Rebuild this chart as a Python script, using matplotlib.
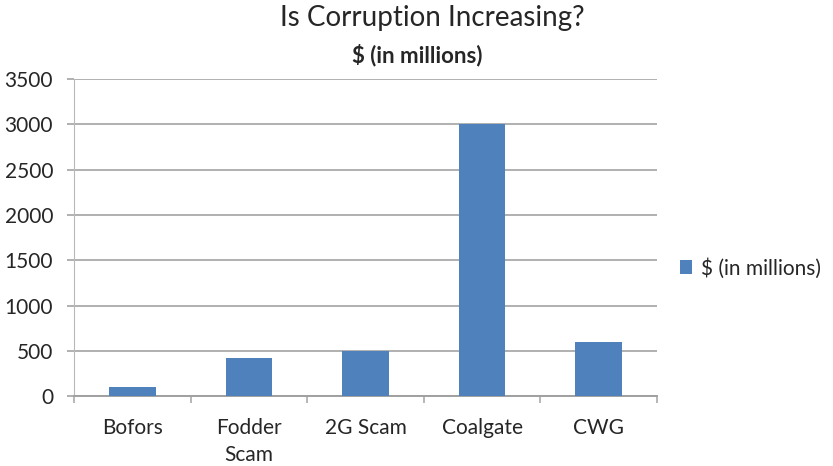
import matplotlib
matplotlib.use("Agg")
import matplotlib.pyplot as plt
import numpy as np

categories = ["Bofors", "Fodder\nScam", "2G Scam", "Coalgate", "CWG"]
values = [100, 420, 500, 3000, 600]
series_name = "$ (in millions)"
yticks = [0, 500, 1000, 1500, 2000, 2500, 3000, 3500]

plt.rcParams['font.family'] = ['Lato', 'DejaVu Sans']

fig = plt.figure(figsize=(8.33, 4.66), dpi=100)
ax = fig.add_axes([0.0888, 0.150, 0.700, 0.680])

x = np.arange(len(categories))
ax.bar(x, values, width=0.4, color="#4F81BD", label=series_name, zorder=3)

ax.set_xlim(-0.5, len(categories) - 0.5)
ax.set_ylim(0, 3500)
ax.set_yticks(yticks)
ax.set_xticks(x)
ax.set_xticklabels(categories, fontsize=15, color="#262626", linespacing=1.4)
ax.tick_params(axis="y", labelsize=15, colors="#262626", length=5, color="#AAAAAA", width=1.3, pad=10)
ax.tick_params(axis="x", length=0, pad=16)
# boundary tick marks between categories
ax.set_xticks(np.arange(len(categories) + 1) - 0.5, minor=True)
ax.tick_params(axis="x", which="minor", length=5, color="#AAAAAA", width=1.2)

ax.grid(axis="y", color="#B0B0B0", linewidth=1.4, zorder=0)
for s in ["top", "right"]:
    ax.spines[s].set_visible(False)
ax.spines["left"].set_color("#B8B8B8")
ax.spines["left"].set_linestyle((0, (2, 1)))
ax.spines["bottom"].set_color("#A0A0A0")
ax.spines["bottom"].set_linewidth(1.4)

fig.text(0.519, 0.961, "Is Corruption Increasing?", ha="center", va="center", fontsize=20, color="#262626")
fig.text(0.501, 0.882, series_name, ha="center", va="center", fontsize=16, fontweight="bold", color="#262626")

leg = ax.legend(loc="center left", bbox_to_anchor=(1.0, 0.404), frameon=False, fontsize=15,
                handlelength=0.6, handleheight=0.6, handletextpad=0.4, borderaxespad=0.7)
for t in leg.get_texts():
    t.set_color("#262626")

fig.savefig("out.png", dpi=100)
